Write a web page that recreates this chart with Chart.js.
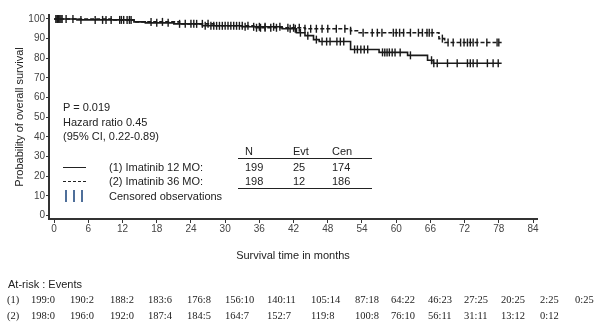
<!DOCTYPE html>
<html>
<head>
<meta charset="utf-8">
<script src="https://cdn.jsdelivr.net/npm/chart.js@4"></script>
<style>
  body { margin: 0; background: #fff; }
  #wrap { position: relative; width: 601px; height: 329px; font-family: "Liberation Sans", Arial, sans-serif; color: #222; }
  #chart { position: absolute; left: 0; top: 0; }
  .t { position: absolute; font-size: 11px; line-height: 13px; white-space: nowrap; }
  .r { position: absolute; font-family: "Liberation Serif", "Times New Roman", serif; font-size: 10.5px; line-height: 12px; white-space: nowrap; }
  .hl { position: absolute; height: 0; border-top: 1.5px solid #222; }
</style>
</head>
<body>
<div id="wrap">
  <canvas id="chart" width="601" height="329"></canvas>
</div>
<script>
// Kaplan-Meier steps, arm 1 (Imatinib 12 MO, solid)
const arm1Times = [0, 4, 14, 16, 21, 26, 33, 40, 42.5, 44, 45.5, 46.5, 52, 57, 62, 65.5, 66.5, 78.5];
const arm1Surv  = [100, 99.5, 98.5, 98, 97.5, 96.5, 96, 95, 93, 91.5, 89.5, 88.5, 84.5, 83, 81.5, 79, 77.5, 77.5];

// arm 2 (Imatinib 36 MO, dashed)
const arm2Times = [0, 10, 14, 22, 28, 35, 44, 52, 53.5, 67.5, 68.5, 78.5];
const arm2Surv  = [100, 99.5, 98.5, 97.5, 96.5, 95.5, 95, 94, 93, 90, 88, 88];

// censoring times (months)
const arm1Censor = [0.5, 0.8, 1.2, 2.1, 3.3, 4.7, 7.2, 8.5, 9.1, 11.5, 12.2, 13.2, 18, 20, 23, 24.5, 26.5, 27.5,
  28.5, 29.5, 30.5, 31.5, 32.5, 33.5, 35, 36, 37, 38.5, 39.6, 41.4, 42.3, 43.2, 44.5, 46, 47, 47.8, 48.4, 49.6,
  50.2, 50.8, 52.7, 53.2, 53.8, 54.4, 55, 57.6, 58, 58.4, 58.8, 59.3, 59.8, 60.7, 62.5, 66.2, 66.6, 67.2, 69,
  70.7, 72.5, 73, 73.5, 74.2, 76, 77, 77.9];
const arm2Censor = [0.3, 0.6, 1, 1.4, 10, 11.8, 12.8, 13.5, 17, 19, 22, 24, 25, 26, 27, 28, 29, 30, 31, 32, 33,
  34, 35.5, 36.2, 37, 38, 39, 41, 42, 43, 44, 45, 46, 47, 48, 49.5, 51, 52, 54.2, 55.8, 56.7, 57.5, 59.5, 60,
  60.6, 61.3, 62.5, 63.9, 64.6, 65.4, 65.8, 66.3, 68.1, 69.1, 70, 71.3, 71.9, 72.5, 73, 73.5, 74.2, 75.9, 77.7, 78];

const xTicks = [0, 6, 12, 18, 24, 30, 36, 42, 48, 54, 60, 66, 72, 78, 84];
const yTicks = [0, 10, 20, 30, 40, 50, 60, 70, 80, 90, 100];

const armLabels = ["(1) Imatinib 12 MO:", "(2) Imatinib 36 MO:"];
const armN = [199, 198];
const armEvt = [25, 12];
const armCen = [174, 186];
const statLines = ["P = 0.019", "Hazard ratio 0.45", "(95% CI, 0.22-0.89)"];

const riskHeader = "At-risk : Events";
const risk1 = ["199:0", "190:2", "188:2", "183:6", "176:8", "156:10", "140:11", "105:14", "87:18", "64:22", "46:23", "27:25", "20:25", "2:25", "0:25"];
const risk2 = ["198:0", "196:0", "192:0", "187:4", "184:5", "164:7", "152:7", "119:8", "100:8", "76:10", "56:11", "31:11", "13:12", "0:12"];

function levelAt(times, surv, t) {
  let v = surv[0];
  for (let i = 0; i < times.length; i++) if (times[i] <= t) v = surv[i];
  return v;
}
const steps = (times, surv) => times.map((t, i) => ({ x: t, y: surv[i] }));
const marks = (cens, times, surv) => cens.map(t => ({ x: t, y: levelAt(times, surv, t) }));

const ink = "#1a1a1a";
const censorStyle = {
  showLine: false, pointStyle: "line", rotation: 90, pointRadius: 4,
  pointBorderColor: ink, pointBorderWidth: 1.4, pointBackgroundColor: ink,
};

const ctx = document.getElementById("chart").getContext("2d");
new Chart(ctx, {
  type: "line",
  data: {
    datasets: [
      { data: steps(arm1Times, arm1Surv), stepped: "before", borderColor: ink, borderWidth: 1.6, pointRadius: 0 },
      { data: steps(arm2Times, arm2Surv), stepped: "before", borderColor: ink, borderWidth: 1.6, borderDash: [4, 2], pointRadius: 0 },
      Object.assign({ data: marks(arm1Censor, arm1Times, arm1Surv) }, censorStyle),
      Object.assign({ data: marks(arm2Censor, arm2Times, arm2Surv) }, censorStyle),
    ],
  },
  options: {
    responsive: false,
    animation: false,
    layout: { padding: { left: 0, top: 15, right: 64, bottom: 66 } },
    plugins: { legend: { display: false }, tooltip: { enabled: false } },
    scales: {
      x: {
        type: "linear", min: -0.9, max: 84.7,
        afterBuildTicks: s => { s.ticks = xTicks.map(v => ({ value: v })); },
        afterFit: s => { s.height = 44; },
        border: { color: "#333", width: 2 },
        grid: { drawOnChartArea: false, drawTicks: true, tickLength: 4, color: "#333" },
        ticks: { color: "#444", padding: 0, font: { family: "Liberation Sans", size: 10 }, maxRotation: 0 },
        title: { display: true, text: "Survival time in months", color: "#222", padding: 0,
                 font: { family: "Liberation Sans", size: 11 } },
      },
      y: {
        min: -1.7, max: 102,
        afterBuildTicks: s => { s.ticks = yTicks.map(v => ({ value: v })); },
        afterFit: s => { s.width = 49; },
        border: { color: "#333", width: 2 },
        grid: { drawOnChartArea: false, drawTicks: true, tickLength: 3, color: "#333" },
        ticks: { color: "#444", padding: 1, font: { family: "Liberation Sans", size: 10 } },
        title: { display: true, text: "Probability of overall survival", color: "#222",
                 padding: { top: 13, bottom: 0 }, font: { family: "Liberation Sans", size: 11 } },
      },
    },
  },
});

// annotation text, legend table and at-risk rows
const wrap = document.getElementById("wrap");
function put(cls, text, left, cy, h) {
  const d = document.createElement("div");
  d.className = cls;
  d.textContent = text;
  d.style.left = left + "px";
  d.style.top = (cy - h / 2) + "px";
  wrap.appendChild(d);
  return d;
}
function rule(left, width, top, style) {
  const d = document.createElement("div");
  d.className = "hl";
  d.style.left = left + "px";
  d.style.width = width + "px";
  d.style.top = top + "px";
  if (style) d.style.borderTopStyle = style;
  wrap.appendChild(d);
}

const statY = [107, 122, 136];
statLines.forEach((s, i) => put("t", s, 63, statY[i], 13));

const colX = { n: 245, evt: 293, cen: 332 };
put("t", "N", colX.n, 151, 13);
put("t", "Evt", colX.evt, 151, 13);
put("t", "Cen", colX.cen, 151, 13);
rule(238, 134, 157.5);
const rowY = [167, 181];
armLabels.forEach((lab, i) => {
  put("t", lab, 109, rowY[i], 13);
  put("t", String(armN[i]), colX.n, rowY[i], 13);
  put("t", String(armEvt[i]), colX.evt, rowY[i], 13);
  put("t", String(armCen[i]), colX.cen, rowY[i], 13);
});
rule(238, 134, 187.5);
rule(63, 23, 166.5);
rule(63, 23, 180.5, "dashed");
[65, 73, 81].forEach(x => {
  const b = document.createElement("div");
  b.style.cssText = "position:absolute;left:" + x + "px;top:190px;width:1.5px;height:12px;background:#4f6f9a";
  wrap.appendChild(b);
});
put("t", "Censored observations", 109, 196, 13);

put("t", riskHeader, 8, 284, 13);
const riskCols = [31, 70, 110, 148, 187, 225, 267, 311, 355, 391, 428, 464, 501, 540, 575];
put("r", "(1)", 7, 300, 12);
put("r", "(2)", 7, 316, 12);
risk1.forEach((s, i) => put("r", s, riskCols[i], 300, 12));
risk2.forEach((s, i) => put("r", s, riskCols[i], 316, 12));
</script>
</body>
</html>
